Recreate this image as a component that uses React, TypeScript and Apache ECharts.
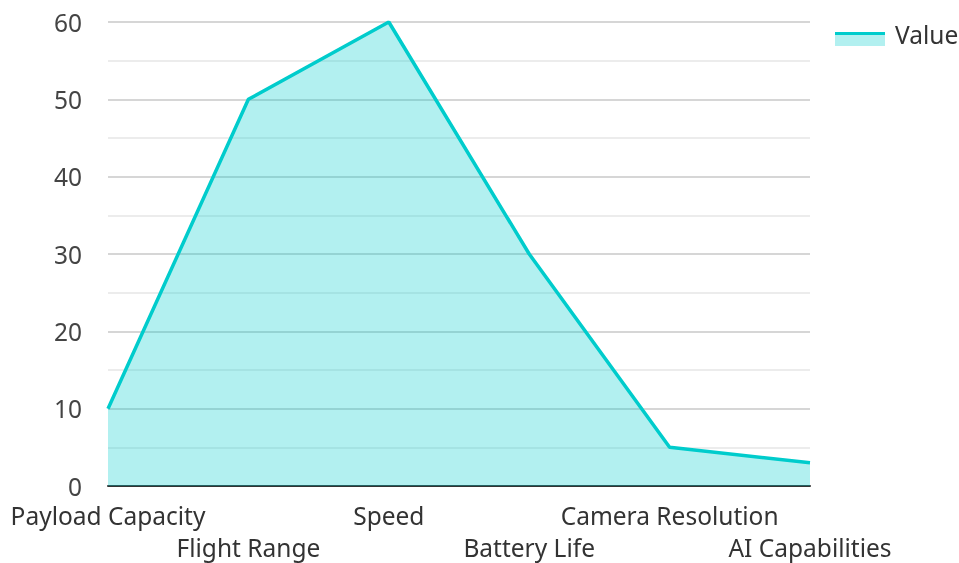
import React, { useEffect, useRef } from "react";
import * as echarts from "echarts";

const categories = ["Payload Capacity", "Flight Range", "Speed", "Battery Life", "Camera Resolution", "AI Capabilities"];
const values = [10, 50, 60, 30, 5, 3];
const seriesName = "Value";

const LINE = "#00cccc";
const FILL = "rgba(0, 204, 204, 0.3)";
const FONT = "'Noto Sans', sans-serif";
const FS = 24.5;

export default function App() {
  const ref = useRef<HTMLDivElement>(null);
  useEffect(() => {
    const chart = echarts.init(ref.current!, undefined, { renderer: "svg" });
    chart.setOption({
      animation: false,
      textStyle: { fontFamily: FONT },
      grid: { left: 108, right: 149, top: 22, bottom: 74 },
      xAxis: {
        type: "category",
        data: categories,
        boundaryGap: false,
        axisLine: { lineStyle: { color: "#333", width: 2 } },
        axisTick: { show: false },
        axisLabel: {
          interval: 0,
          margin: 13,
          fontSize: FS,
          lineHeight: 32,
          color: "#333",
          fontFamily: FONT,
          formatter: (v: string, i: number) => (i % 2 ? "\n" + v : v),
        },
        splitLine: { show: false },
      },
      yAxis: {
        type: "value",
        min: 0,
        max: 60,
        interval: 10,
        axisLine: { show: false },
        axisTick: { show: false },
        axisLabel: { fontSize: FS, lineHeight: 20, color: "#444", margin: 26, fontFamily: FONT },
        splitLine: { lineStyle: { color: "#c8c8c8", width: 1.5 } },
        minorTick: { show: false, splitNumber: 2 },
        minorSplitLine: { show: true, lineStyle: { color: "#e6e6e6", width: 1.5 } },
      },
      series: [
        {
          name: seriesName,
          type: "line",
          data: values,
          symbol: "none",
          lineStyle: { color: LINE, width: 3.5 },
          itemStyle: { color: LINE },
          areaStyle: { color: FILL, opacity: 1 },
        },
      ],
      graphic: [
        { type: "rect", shape: { x: 835, y: 32, width: 50, height: 14 }, style: { fill: FILL } },
        { type: "line", shape: { x1: 835, y1: 33.5, x2: 885, y2: 33.5 }, style: { stroke: LINE, lineWidth: 3 } },
        {
          type: "text",
          x: 895,
          y: 34,
          style: { text: seriesName, fontSize: FS, fill: "#333", fontFamily: FONT, verticalAlign: "middle" },
        },
      ],
    });
    return () => chart.dispose();
  }, []);
  return <div ref={ref} style={{ width: 959, height: 563, position: "fixed", left: 0, top: 0 }} />;
}
